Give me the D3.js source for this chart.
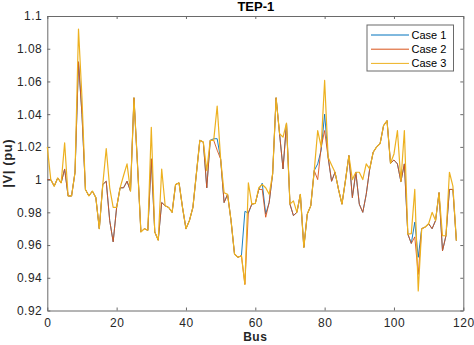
<!DOCTYPE html>
<html><head><meta charset="utf-8">
<script src="https://cdn.jsdelivr.net/npm/d3@7"></script>
<style>body{margin:0;background:#fff}svg{display:block}text{font-family:"Liberation Sans",Arial,sans-serif}</style>
</head><body>
<script>
const buses = d3.range(0, 119);
const case1 = [
1.000,1.000,0.996,1.001,0.998,1.0065,0.990,0.990,1.0045,1.072,
1.040,0.994,0.990,0.993,0.989,0.970,0.997,0.999,0.975,0.962,
0.983,0.995,0.995,0.999,0.993,1.050,1.010,0.968,0.970,0.969,
1.0127,0.968,0.963,0.986,0.984,0.983,0.980,0.997,0.998,0.983,
0.970,0.975,0.983,1.0035,1.024,1.023,0.995,1.024,1.025,1.025,
1.0126,0.986,0.991,0.975,0.9545,0.9525,0.9535,0.9806,0.9795,0.985,
0.9855,0.994,0.9978,0.979,0.986,1.0035,1.050,1.028,1.0065,1.0345,
0.985,0.978,0.980,0.991,0.9586,0.979,0.984,1.0055,1.0096,1.018,
1.040,1.0137,0.999,1.0045,0.994,0.985,0.9994,1.0147,0.989,1.0045,
0.985,0.980,0.991,1.0065,1.0167,1.020,1.022,1.033,1.036,1.010,
1.012,1.0096,0.9988,1.0096,0.9667,0.961,0.974,0.9525,0.970,0.971,
0.973,0.970,0.975,0.992,0.9565,0.9657,0.994,0.994,0.9627];
const case2 = [
1.000,1.000,0.996,1.001,0.998,1.0065,0.990,0.990,1.0045,1.072,
1.040,0.994,0.990,0.993,0.989,0.970,0.997,0.999,0.975,0.962,
0.983,0.995,0.995,0.999,0.993,1.050,1.010,0.968,0.970,0.969,
1.0127,0.968,0.963,0.986,0.984,0.983,0.980,0.997,0.998,0.983,
0.970,0.975,0.983,1.0035,1.024,1.023,0.995,1.024,1.024,1.018,
1.0126,0.986,0.991,0.975,0.9545,0.9525,0.9535,0.936,0.980,0.985,
0.9855,0.994,0.994,0.977,0.986,1.0035,1.050,1.028,1.0065,1.0345,
0.985,0.978,0.980,0.991,0.9586,0.979,0.984,1.0055,1.000,1.020,
1.030,1.0137,0.999,1.0045,0.994,0.985,0.9994,1.0147,0.989,1.0045,
0.985,0.980,0.991,1.0065,1.0167,1.020,1.022,1.033,1.036,1.010,
1.012,1.0096,0.9988,1.0096,0.9667,0.961,0.965,0.942,0.970,0.971,
0.973,0.970,0.975,0.992,0.9565,0.9657,0.994,0.994,0.9627];
const case3 = [
1.020,1.000,0.996,1.001,0.998,1.0225,0.990,0.990,1.0045,1.092,
1.050,0.994,0.990,0.993,0.989,0.970,0.997,1.019,0.995,0.983,
0.983,0.995,1.0025,1.0096,0.993,1.050,1.010,0.968,0.970,0.969,
1.032,0.968,0.963,1.0065,0.984,0.983,0.980,0.997,0.998,0.983,
0.970,0.975,0.983,1.0035,1.024,1.023,1.0055,1.024,1.024,1.045,
1.0126,0.992,0.991,0.975,0.9545,0.9525,0.9535,0.936,0.998,0.985,
0.9855,0.995,0.997,0.995,0.991,1.0035,1.050,1.028,1.026,1.0345,
0.985,0.987,0.980,0.991,0.9586,0.979,0.984,1.0055,1.030,1.020,
1.0606,1.0137,1.009,1.0045,0.994,0.985,0.9994,1.0147,1.000,1.0045,
1.0045,1.000,1.0096,1.0065,1.0167,1.020,1.022,1.033,1.036,1.010,
1.0157,1.030,0.9988,1.030,0.9667,0.967,0.994,0.932,0.970,0.971,
0.973,0.980,0.975,0.992,0.9657,0.9657,1.0045,0.996,0.9627];
const seriesNames = ["Case 1", "Case 2", "Case 3"];
const seriesColors = ["#0072BD", "#D95319", "#EDB120"];
const xTicks = [0, 20, 40, 60, 80, 100, 120];
const yTicks = [0.92, 0.94, 0.96, 0.98, 1.0, 1.02, 1.04, 1.06, 1.08, 1.1];
const yTickLabels = ["0.92","0.94","0.96","0.98","1","1.02","1.04","1.06","1.08","1.1"];

const W = 474, H = 345;
const L = 47.3, R = 463.3, T = 16, B = 310.5;
const svg = d3.select("body").append("svg").attr("width", W).attr("height", H);
const x = d3.scaleLinear().domain([0, 120]).range([L, R]);
const y = d3.scaleLinear().domain([0.92, 1.1]).range([B, T]);
const axisColor = "#6a6a6a";

function styleAxis(g) {
  g.select(".domain").attr("stroke", axisColor).attr("stroke-width", 1);
  g.selectAll(".tick line").attr("stroke", axisColor);
  g.selectAll("text").attr("fill", "#262626").attr("font-size", 12).attr("letter-spacing", 0.5)
    .attr("font-family", "'Liberation Sans',Arial,sans-serif");
}
svg.append("g").attr("transform", `translate(0,${B})`)
  .call(d3.axisBottom(x).tickValues(xTicks).tickSizeInner(-3).tickSizeOuter(0).tickPadding(8).tickFormat(d3.format("d")))
  .call(styleAxis);
svg.append("g").attr("transform", `translate(0,${T})`)
  .call(d3.axisTop(x).tickValues(xTicks).tickSizeInner(-3).tickSizeOuter(0).tickFormat(""))
  .call(styleAxis);
svg.append("g").attr("transform", `translate(${L},0)`)
  .call(d3.axisLeft(y).tickValues(yTicks).tickSizeInner(-3).tickSizeOuter(0).tickPadding(5).tickFormat((d, i) => yTickLabels[i]))
  .call(styleAxis);
svg.append("g").attr("transform", `translate(${R},0)`)
  .call(d3.axisRight(y).tickValues(yTicks).tickSizeInner(-3).tickSizeOuter(0).tickFormat(""))
  .call(styleAxis);

const data = [case1, case2, case3];
const widths = [0.9, 0.9, 1.2];
const line = d3.line().x((d, i) => x(buses[i])).y(d => y(d));
const plot = svg.append("g");
data.forEach((s, k) => {
  plot.append("path").datum(s).attr("d", line).attr("fill", "none")
    .attr("stroke", seriesColors[k]).attr("stroke-width", widths[k]).attr("stroke-linejoin", "round");
});

svg.append("text").attr("x", (L + R) / 2 + 0.5).attr("y", 11).attr("text-anchor", "middle")
  .attr("font-size", 13).attr("font-weight", "bold").attr("fill", "#000").text("TEP-1");
svg.append("text").attr("x", (L + R) / 2).attr("y", 341).attr("text-anchor", "middle")
  .attr("font-size", 12).attr("font-weight", "bold").attr("letter-spacing", 0.5).attr("fill", "#262626").text("Bus");
svg.append("text").attr("transform", `translate(12,${(T + B) / 2}) rotate(-90)`).attr("text-anchor", "middle")
  .attr("font-size", 13).attr("font-weight", "bold").attr("letter-spacing", 0.6).attr("fill", "#262626").text("|V| (pu)");

const lg = svg.append("g");
lg.append("rect").attr("x", 367).attr("y", 25).attr("width", 86.5).attr("height", 46)
  .attr("fill", "#fff").attr("stroke", axisColor).attr("stroke-width", 1);
seriesNames.forEach((n, k) => {
  const yy = 35 + k * 14.2;
  lg.append("line").attr("x1", 371).attr("x2", 409).attr("y1", yy).attr("y2", yy)
    .attr("stroke", seriesColors[k]).attr("stroke-width", 1);
  lg.append("text").attr("x", 411.5).attr("y", yy + 4).attr("font-size", 11).attr("fill", "#000").text(n);
});
</script>
</body></html>
